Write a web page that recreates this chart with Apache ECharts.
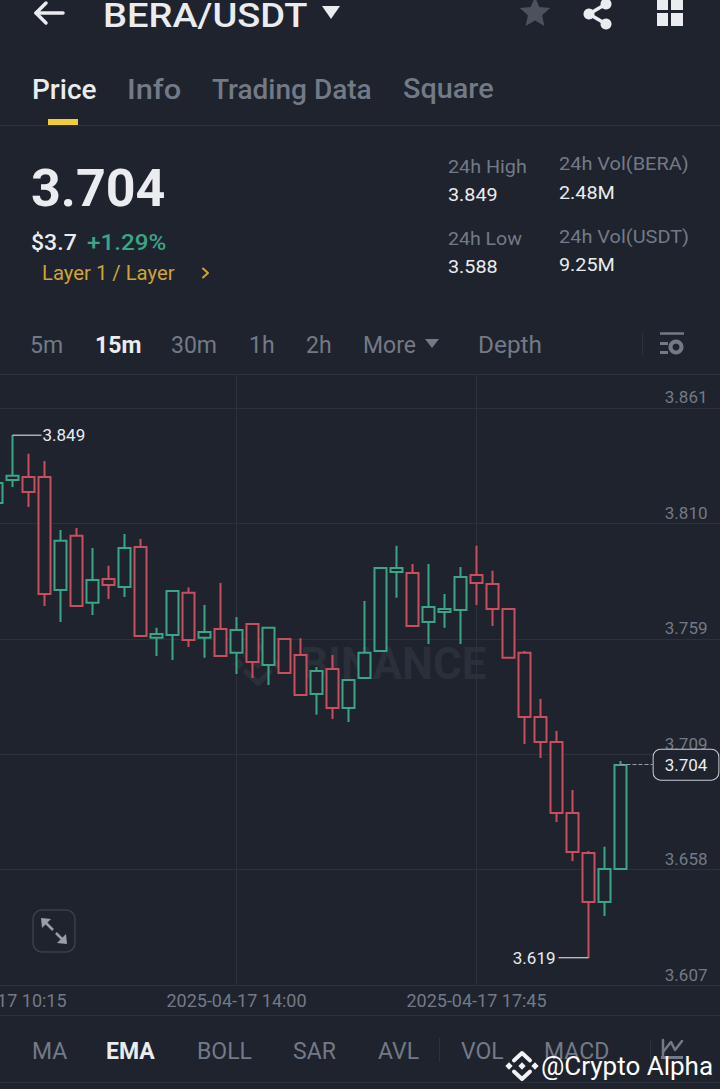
<!DOCTYPE html>
<html><head><meta charset="utf-8">
<style>html,body{margin:0;padding:0;background:#1e232d}#c{width:720px;height:1089px}</style>
<script src="https://cdn.jsdelivr.net/npm/echarts@6/dist/echarts.min.js"></script>
</head><body><div id="c"></div>
<script>
const categories = ["2025-04-17 10:15","2025-04-17 10:30","2025-04-17 10:45","2025-04-17 11:00","2025-04-17 11:15","2025-04-17 11:30","2025-04-17 11:45","2025-04-17 12:00","2025-04-17 12:15","2025-04-17 12:30","2025-04-17 12:45","2025-04-17 13:00","2025-04-17 13:15","2025-04-17 13:30","2025-04-17 13:45","2025-04-17 14:00","2025-04-17 14:15","2025-04-17 14:30","2025-04-17 14:45","2025-04-17 15:00","2025-04-17 15:15","2025-04-17 15:30","2025-04-17 15:45","2025-04-17 16:00","2025-04-17 16:15","2025-04-17 16:30","2025-04-17 16:45","2025-04-17 17:00","2025-04-17 17:15","2025-04-17 17:30","2025-04-17 17:45","2025-04-17 18:00","2025-04-17 18:15","2025-04-17 18:30","2025-04-17 18:45","2025-04-17 19:00","2025-04-17 19:15","2025-04-17 19:30","2025-04-17 19:45","2025-04-17 20:00","2025-04-17 20:15","2025-04-17 20:30","2025-04-17 20:45","2025-04-17 21:00","2025-04-17 21:15","2025-04-17 21:30"];
const opens  = [3.8192,3.8293,3.8306,3.8306,3.7809,3.8047,3.7752,3.7857,3.7822,3.7998,3.7598,3.7611,3.7796,3.7598,3.7637,3.7532,3.7659,3.7479,3.7593,3.7523,3.7351,3.7461,3.7289,3.7421,3.7540,3.7888,3.7884,3.7668,3.7712,3.7721,3.7875,3.7835,3.7725,3.7532,3.7250,3.7140,3.6827,3.6651,3.6435,3.6581];
const closes = [3.8280,3.8311,3.8240,3.7791,3.8025,3.7738,3.7853,3.7831,3.7994,3.7606,3.7615,3.7804,3.7589,3.7624,3.7518,3.7633,3.7492,3.7642,3.7443,3.7347,3.7452,3.7289,3.7413,3.7532,3.7906,3.7906,3.7650,3.7734,3.7725,3.7866,3.7840,3.7725,3.7510,3.7250,3.7140,3.6827,3.6655,3.6435,3.6581,3.7038];
const lows   = [3.8183,3.8262,3.8174,3.7738,3.7668,3.7734,3.7699,3.7769,3.7778,3.7602,3.7518,3.7501,3.7558,3.7510,3.7514,3.7439,3.7421,3.7391,3.7443,3.7342,3.7259,3.7241,3.7228,3.7421,3.7536,3.7774,3.7646,3.7571,3.7642,3.7571,3.7743,3.7650,3.7510,3.7131,3.7069,3.6788,3.6616,3.6189,3.6374,3.6581];
const highs  = [3.8302,3.8491,3.8408,3.8377,3.8073,3.8082,3.7994,3.7915,3.8055,3.8033,3.7642,3.7804,3.7820,3.7743,3.7840,3.7690,3.7659,3.7642,3.7593,3.7596,3.7470,3.7523,3.7413,3.7760,3.7906,3.8003,3.7923,3.7923,3.7791,3.7910,3.8003,3.7893,3.7725,3.7540,3.7329,3.7188,3.6928,3.6660,3.6678,3.7056];
const yTicks = [3.607,3.6578,3.7086,3.7594,3.8102,3.861];
const xLabelIdx = [0,15,30];
const highIdx = 1, highVal = 3.849, lowIdx = 37, lowVal = 3.619, lastIdx = 39, lastVal = 3.704, tagIdx = 43;

const BG='#1e232d', UP='#3ba585', DN='#c94f5f', LINE='#2c313b', GRAY='#737a87', WHITE='#eaecef';
const FF='Roboto, sans-serif';
const ohlc = opens.map((o,i)=>[o,closes[i],lows[i],highs[i]]);

function T(x,y,text,size,fill,weight,sx){const e={type:'text',x,y,silent:true,z:10,style:{text,fill,font:(weight||400)+' '+size+'px '+FF,align:'left',verticalAlign:'middle'}};if(sx){e.scaleX=sx;}return e;}
function L(x1,y1,x2,y2,stroke,w,z){return {type:'line',silent:true,z:z==null?1:z,shape:{x1,y1,x2,y2},style:{stroke,lineWidth:w||1}};}
function P(points,fill,z){return {type:'polygon',silent:true,z:z==null?10:z,shape:{points},style:{fill}};}
function PL(points,stroke,w){return {type:'polyline',silent:true,z:10,shape:{points},style:{stroke,lineWidth:w,fill:'none',lineCap:'round',lineJoin:'round'}};}
function R(x,y,w,h,fill,r,z){return {type:'rect',silent:true,z:z==null?10:z,shape:{x,y,width:w,height:h,r:r||0},style:{fill}};}
function C(cx,cy,r,fill){return {type:'circle',silent:true,z:10,shape:{cx,cy,r},style:{fill}};}
function star(cx,cy,ro,ri){const p=[];for(let i=0;i<10;i++){const r=i%2?ri:ro,a=-Math.PI/2+i*Math.PI/5;p.push([cx+r*Math.cos(a),cy+r*Math.sin(a)]);}return p;}
function binLogo(cx,cy,s,fill,z){const d=(x,y,r)=>P([[x,y-r],[x+r,y],[x,y+r],[x-r,y]],fill,z);
  return [d(cx-s,cy,s*.28),d(cx+s,cy,s*.28),d(cx,cy,s*.28),
    PL([[cx-s*.62,cy-s*.42],[cx,cy-s],[cx+s*.62,cy-s*.42]],fill,s*.3),
    PL([[cx-s*.62,cy+s*.42],[cx,cy+s],[cx+s*.62,cy+s*.42]],fill,s*.3)].map(e=>{if(z!=null)e.z=z;return e;});}

const chrome=[
  PL([[36,13],[63,13]],WHITE,3.5),PL([[46,3],[36,13],[46,23]],WHITE,3.5),
  T(103,16,'BERA/USDT',33.5,WHITE,500,1.135),
  P([[322,6],[340,6],[331,19]],WHITE),
  P(star(535,13,16,7.5),'#4b515d'),
  L(606,4,589,14,WHITE,3.5,10),L(589,14,606,24,WHITE,3.5,10),C(606,4,5.5,WHITE),C(589,14,5.5,WHITE),C(606,24,5.5,WHITE),
  R(657,-2,11,12,WHITE),R(671,-2,12,12,WHITE),R(657,13,11,13,WHITE),R(671,13,12,13,WHITE),
  T(32,89,'Price',28,WHITE,500),T(127,89,'Info',28,GRAY,500,1.1),T(212,89,'Trading Data',28,GRAY,500),T(403,89,'Square',28,GRAY,500,1.03),
  R(48,119,30,6,'#f0cb3b'),L(0,125.5,720,125.5,LINE,1,1),
  T(31,188,'3.704',52,WHITE,700),
  T(31,243,'$3.7',22,WHITE,500,1.05),T(87,243,'+1.29%',22,UP,500,1.1),
  T(42,274,'Layer 1 / Layer',19.5,'#cfa435',400,1.04),
  PL([[203,268.5],[208,273],[203,277.5]],'#cfa435',2),
  T(448,167,'24h High',19,GRAY,400,1.04),T(448,195,'3.849',18,WHITE,400,1.1),
  T(559,164,'24h Vol(BERA)',19,GRAY,400,1.05),T(559,193,'2.48M',18,WHITE,400,1.1),
  T(448,239,'24h Low',19,GRAY,400,1.03),T(448,267,'3.588',18,WHITE,400,1.1),
  T(559,237,'24h Vol(USDT)',19,GRAY,400,1.05),T(559,265,'9.25M',18,WHITE,400,1.1),
  T(30,345,'5m',23,GRAY),T(95,345,'15m',23,WHITE,700),T(171,345,'30m',23,GRAY),T(249,345,'1h',23,GRAY),T(306,345,'2h',23,GRAY),
  T(363,345,'More',23,GRAY),P([[425,339],[439,339],[432,348]],GRAY),T(478,345,'Depth',23,GRAY,400,1.06),
  L(642.5,333,642.5,355,LINE,1,1),
  L(660,333.5,684,333.5,GRAY,2.5,10),R(660,342,8,3,GRAY),R(660,351,8,3,GRAY),
  {type:'circle',silent:true,z:10,shape:{cx:676,cy:347,r:5.5},style:{fill:'none',stroke:GRAY,lineWidth:4}},
  L(0,374.5,720,374.5,LINE,1,1),
  {type:'rect',silent:true,z:10,shape:{x:33,y:910,width:42,height:42,r:9},style:{fill:BG,stroke:'#3a404b',lineWidth:1.5}},
  L(45,922,53,930,'#9a9ea6',2.5,11),P([[41,918],[51,919],[42,928]],'#9a9ea6',11),
  L(56,933,63,940,'#9a9ea6',2.5,11),P([[67,944],[57,943],[66,934]],'#9a9ea6',11),
  L(0,1015.5,720,1015.5,LINE,1,1),L(0,1082.5,720,1082.5,LINE,1,1),
  T(32,1051,'MA',23,GRAY),T(106,1051,'EMA',23,WHITE,700),T(197,1051,'BOLL',23,GRAY),T(293,1051,'SAR',23,GRAY),T(378,1051,'AVL',23,GRAY),
  L(439.5,1038,439.5,1062,LINE,1,1),T(461,1051,'VOL',23,GRAY),T(544,1051,'MACD',23,GRAY),L(650.5,1040,650.5,1060,LINE,1,1),
  PL([[663,1055],[663,1040]],GRAY,2.5),PL([[663,1052],[671,1042],[675,1050],[682,1041]],GRAY,2.5),R(661,1056,22,3,GRAY),
  ...binLogo(522,1066,13,'#f2f3f5',12),
  Object.assign(T(541,1066,'@Crypto Alpha',26,'#ffffff',400),{z:12}),
  ...binLogo(258,664,19,'#2a2f3a',0),
  Object.assign(T(300,664,'BINANCE',44,'#2a2f3a',700),{z:0})
];

const chart=echarts.init(document.getElementById('c'),null,{renderer:'svg',width:720,height:1089});
chart.setOption({
  animation:false,
  backgroundColor:BG,
  graphic:chrome,
  grid:{left:-11.5,right:-4.5,top:375,bottom:104,containLabel:false,outerBoundsMode:'none'},
  xAxis:{type:'category',data:categories,boundaryGap:true,
    axisLine:{show:true,lineStyle:{color:LINE}},axisTick:{show:false},
    axisLabel:{show:true,color:GRAY,fontFamily:FF,fontSize:18,margin:6,hideOverlap:false,interval:(i)=>xLabelIdx.includes(i),showMinLabel:true},
    splitLine:{show:true,alignWithLabel:true,interval:(i)=>xLabelIdx.includes(i),lineStyle:{color:LINE}}},
  yAxis:{type:'value',position:'right',min:3.607,max:3.8755,scale:true,
    axisLine:{show:false},axisTick:{show:false,customValues:yTicks},
    axisLabel:{inside:true,customValues:yTicks,color:GRAY,fontFamily:FF,fontSize:17,margin:17,verticalAlign:'bottom',lineHeight:17,padding:[0,0,2,0],formatter:(v)=>v.toFixed(3),showMinLabel:true,showMaxLabel:true},
    splitLine:{show:true,lineStyle:{color:LINE}}},
  series:[{type:'candlestick',data:ohlc,barWidth:12,
    itemStyle:{color:BG,color0:BG,borderColor:UP,borderColor0:DN,borderWidth:2},
    markLine:{silent:true,symbol:'none',animation:false,label:{show:false},lineStyle:{color:'#9aa0aa',type:'dashed',width:1},
      data:[[{coord:[categories[lastIdx],lastVal]},{coord:[categories[lastIdx+2],lastVal]}]]},
    markPoint:{silent:true,animation:false,data:[
      {coord:[categories[highIdx],highVal],symbol:'rect',symbolSize:[29,1.2],symbolOffset:[14.5,0],itemStyle:{color:'#cfd2d8'},
        label:{show:true,position:'right',distance:1,formatter:String(highVal),color:WHITE,fontFamily:FF,fontSize:17}},
      {coord:[categories[lowIdx],lowVal],symbol:'rect',symbolSize:[30,1.2],symbolOffset:[-15,0],itemStyle:{color:'#cfd2d8'},
        label:{show:true,position:'left',distance:3,formatter:String(lowVal),color:WHITE,fontFamily:FF,fontSize:17}},
      {coord:[categories[tagIdx],lastVal],symbol:'rect',symbolSize:1,symbolOffset:[1.5,0],itemStyle:{color:'rgba(0,0,0,0)'},
        label:{show:true,position:'inside',formatter:lastVal.toFixed(3),color:WHITE,fontFamily:FF,fontSize:17,backgroundColor:BG,borderColor:'#c9ccd2',borderWidth:1,borderRadius:7,padding:[8,11,5,11]}}
    ]}
  }]
});
</script></body></html>
